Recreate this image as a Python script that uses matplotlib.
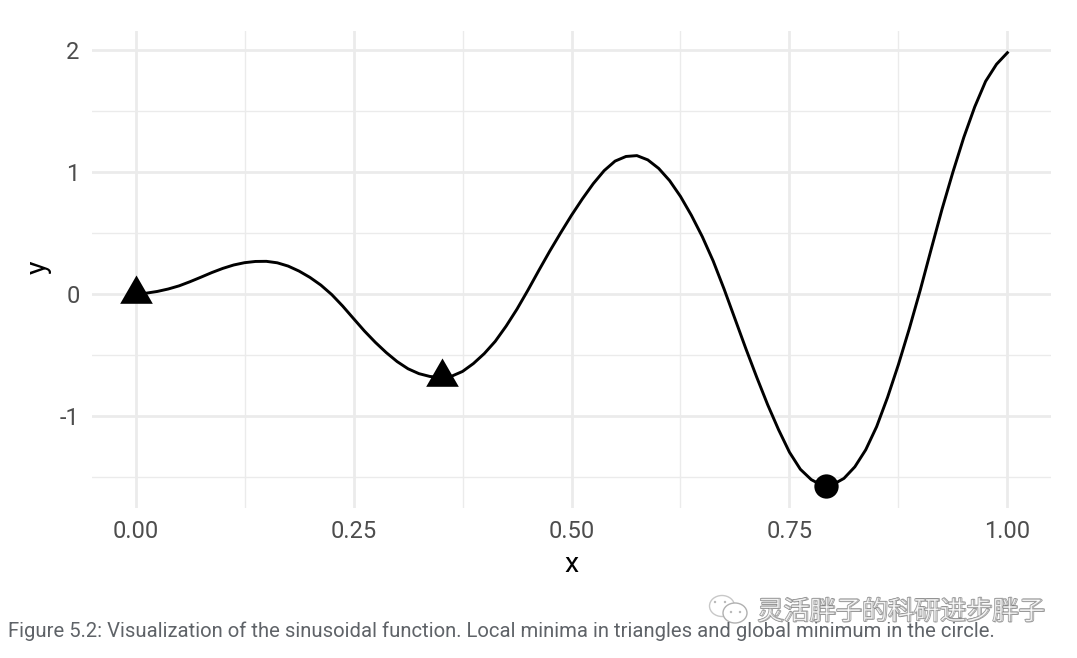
import matplotlib
matplotlib.use("Agg")
import matplotlib.pyplot as plt
import matplotlib.patheffects as pe
from matplotlib.patches import Ellipse, Circle
from matplotlib.path import Path

curve_x = [i / 80 for i in range(81)]
curve_y = [0.000, 0.006, 0.020, 0.040, 0.066, 0.100, 0.137, 0.175, 0.209, 0.237,
           0.256, 0.266, 0.267, 0.255, 0.228, 0.187, 0.135, 0.072, -0.006, -0.100,
           -0.203, -0.305, -0.398, -0.482, -0.556, -0.615, -0.655, -0.678, -0.687, -0.676,
           -0.637, -0.572, -0.490, -0.390, -0.265, -0.125, 0.030, 0.192, 0.350, 0.500,
           0.645, 0.780, 0.905, 1.012, 1.090, 1.128, 1.135, 1.100, 1.030, 0.930,
           0.800, 0.645, 0.470, 0.270, 0.040, -0.205, -0.450, -0.685, -0.910, -1.115,
           -1.300, -1.440, -1.525, -1.573, -1.565, -1.515, -1.420, -1.280, -1.090, -0.850,
           -0.580, -0.285, 0.030, 0.365, 0.695, 1.000, 1.285, 1.535, 1.745, 1.885,
           1.980]
local_min_x = [0.0, 0.352]
local_min_y = [0.0, -0.68]
global_min_x = [0.7923]
global_min_y = [-1.577]

x_major = [0.0, 0.25, 0.5, 0.75, 1.0]
x_minor = [0.125, 0.375, 0.625, 0.875]
x_labels = ["0.00", "0.25", "0.50", "0.75", "1.00"]
y_major = [-1, 0, 1, 2]
y_minor = [-1.5, -0.5, 0.5, 1.5]
y_labels = ["-1", "0", "1", "2"]
caption = ("Figure 5.2: Visualization of the sinusoidal function. "
           "Local minima in triangles and global minimum in the circle.")
watermark = "灵活胖子的科研进步胖子"

W, H = 1077, 658
plt.rcParams["font.family"] = ["Roboto", "DejaVu Sans"]
fig = plt.figure(figsize=(W / 100, H / 100), dpi=100, facecolor="white")
ax = fig.add_axes([92 / W, 1 - 508 / H, (1051 - 92) / W, (508 - 31) / H])
ax.set_xlim(-0.05, 1.05)
ax.set_ylim(-1.758, 2.158)
for s in ax.spines.values():
    s.set_visible(False)
ax.set_axisbelow(True)
ax.set_xticks(x_major)
ax.set_xticklabels(x_labels)
ax.set_xticks(x_minor, minor=True)
ax.set_yticks(y_major)
ax.set_yticklabels(y_labels)
ax.set_yticks(y_minor, minor=True)
ax.grid(which="major", color="#ebebeb", lw=2.0)
ax.grid(which="minor", color="#ebebeb", lw=1.0)
ax.tick_params(which="both", length=0)
ax.tick_params(axis="x", labelsize=17, labelcolor="#4d4d4d", pad=8.5)
ax.tick_params(axis="y", labelsize=17, labelcolor="#4d4d4d", pad=9)
ax.plot(curve_x, curve_y, color="black", lw=2.1, solid_joinstyle="round", zorder=3)

tri = Path([(-1.0, -0.57), (1.0, -0.57), (0.0, 1.166), (-1.0, -0.57)], closed=True)
ax.plot(local_min_x, local_min_y, ls="none", marker=tri, ms=27.4, color="black",
        mew=0, clip_on=False, zorder=4)
ax.plot(global_min_x, global_min_y, ls="none", marker="o", ms=17.5, color="black",
        mew=0, clip_on=False, zorder=4)

fig.text(571 / W, 1 - 564 / H, "x", fontsize=20.5, color="black", ha="center", va="center")
fig.text(38 / W, 1 - 267 / H, "y", fontsize=20.5, color="black", ha="center", va="center",
         rotation=90)

fig.text(8 / W, 1 - 631 / H, caption, fontsize=14.6, color="#5f6368", ha="left", va="center")

# watermark: chat-bubble logo and doubled outlined text
fax = fig.add_axes([0, 0, 1, 1], facecolor="none")
fax.set_xlim(0, W)
fax.set_ylim(H, 0)
fax.axis("off")
fax.add_patch(Ellipse((722, 606), 25, 21, fc="white", ec="#c8c8c8", lw=1.0))
fax.add_patch(Ellipse((735, 613), 24, 20, fc="white", ec="#b0b0b0", lw=1.0))
for (cx, cy) in [(715, 602), (725, 602), (731, 612), (740, 612)]:
    fax.add_patch(Circle((cx, cy), 1.2, fc="#b8b8b8", ec="none"))
family = ["Noto Sans CJK SC", "DejaVu Sans"]
fax.text(758, 612, watermark, fontsize=18.8, family=family, color="white", ha="left",
         va="center", path_effects=[pe.withStroke(linewidth=1.2, foreground="#9a9a9a")])
fax.text(757, 612, watermark, fontsize=18.8, family=family, color="#ffffff", alpha=0.55,
         ha="left", va="center",
         path_effects=[pe.withStroke(linewidth=0.8, foreground="#707070", alpha=0.7)])

fig.savefig("out.png", dpi=100, facecolor="white")
